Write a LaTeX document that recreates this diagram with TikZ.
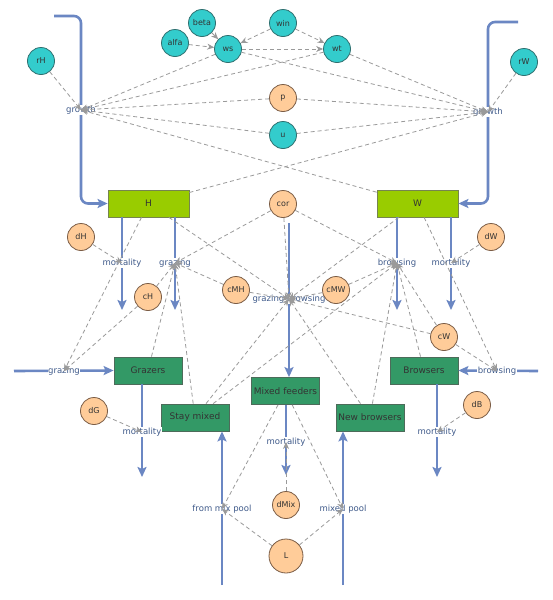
\documentclass[tikz,border=0pt]{standalone}
\usepackage{fontspec}
\setmainfont{DejaVu Sans}
\usetikzlibrary{arrows.meta}
\definecolor{tealfill}{HTML}{33CCCC}
\definecolor{tealedge}{HTML}{2F6F6F}
\definecolor{peachfill}{HTML}{FFCC99}
\definecolor{peachedge}{HTML}{7A5C45}
\definecolor{limefill}{HTML}{99CC00}
\definecolor{limeedge}{HTML}{76844F}
\definecolor{greenfill}{HTML}{339966}
\definecolor{greenedge}{HTML}{4D6B5A}
\definecolor{flowblue}{HTML}{6B87C3}
\definecolor{labblue}{HTML}{3F5A8A}
\definecolor{linkgray}{HTML}{9A9A9A}
\begin{document}
\begin{tikzpicture}[x=1pt,y=-1pt,
  varc/.style={circle, line width=0.8pt, minimum size=27pt, inner sep=0pt, font=\fontsize{8}{9}\selectfont, text=black!80},
  tealc/.style={varc, draw=tealedge, fill=tealfill},
  peachc/.style={varc, draw=peachedge, fill=peachfill},
  stockbox/.style={rectangle, line width=0.8pt, minimum width=68pt, minimum height=27pt, inner sep=0pt, font=\fontsize{9}{10}\selectfont, text=black!80},
  limebox/.style={stockbox, draw=limeedge, fill=limefill, minimum width=81pt},
  greenbox/.style={stockbox, draw=greenedge, fill=greenfill},
  flowlab/.style={fill=white, inner sep=0.6pt, text=labblue, font=\fontsize{8.5}{9}\selectfont},
  flowline/.style={draw=flowblue, line width=2.6pt, -{Stealth[length=10pt,width=9pt,inset=2pt]}},
  link/.style={draw=linkgray, line width=0.8pt, dash pattern=on 4pt off 3pt, -{Stealth[length=7pt,width=6pt]}}
]
\useasboundingbox (0,0) rectangle (552,600);
\fill[white] (0,0) rectangle (552,600);

% ---- valve coordinates
\coordinate (gH) at (81,110);
\coordinate (gW) at (488,112);
\coordinate (mH) at (122,263);
\coordinate (gzH) at (175,263);
\coordinate (bW) at (397,263);
\coordinate (mW) at (451,263);
\coordinate (gb) at (289,299);
\coordinate (gl) at (64,371);
\coordinate (br) at (497,371);
\coordinate (mG) at (142,432);
\coordinate (mB) at (437,432);
\coordinate (mM) at (286,442);
\coordinate (fmp) at (222,509);
\coordinate (mp) at (343,509);

% ---- free ends of flows
\coordinate (gHs) at (54,16);
\coordinate (gWs) at (518,22);
\coordinate (mHe) at (122,310);
\coordinate (gzHe) at (175,310);
\coordinate (bWe) at (397,310);
\coordinate (mWe) at (451,310);
\coordinate (gbs) at (289,223);
\coordinate (gls) at (14,371);
\coordinate (brs) at (538,371);
\coordinate (mGe) at (142,477);
\coordinate (mBe) at (437,477);
\coordinate (mMe) at (286,475);
\coordinate (fmps) at (222,585);
\coordinate (mps) at (343,585);

% ---- stocks
\node[limebox] (H) at (148.5,203.5) {H};
\node[limebox] (W) at (417.5,203.5) {W};
\node[greenbox] (G) at (148,370.5) {Grazers};
\node[greenbox] (SM) at (195,417.5) {Stay mixed};
\node[greenbox] (MF) at (285.5,391) {Mixed feeders};
\node[greenbox] (NB) at (370,417.5) {New browsers};
\node[greenbox] (B) at (424,370.5) {Browsers};

% ---- flows
\draw[flowline, rounded corners=7pt] (gHs) -| (gH) |- (H.west);
\draw[flowline, rounded corners=7pt] (gWs) -| (gW) |- (W.east);
\draw[flowline] (H.south -| mH) -- (mHe);
\draw[flowline] (H.south -| gzH) -- (gzHe);
\draw[flowline] (W.south -| bW) -- (bWe);
\draw[flowline] (W.south -| mW) -- (mWe);
\draw[flowline] (gbs) -- (gbs |- MF.north);
\draw[flowline] (gls) -- (G.west);
\draw[flowline] (brs) -- (B.east);
\draw[flowline] (G.south -| mG) -- (mGe);
\draw[flowline] (B.south -| mB) -- (mBe);
\draw[flowline] (MF.south -| mM) -- (mMe);
\draw[flowline] (fmps) -- (SM.south -| fmp);
\draw[flowline] (mps) -- (NB.south -| mp);

% ---- flow labels
\node[flowlab] (gHl) at (gH) {growth};
\node[flowlab] (gWl) at (gW) {growth};
\node[flowlab] (mHl) at (mH) {mortality};
\node[flowlab] (gzHl) at (gzH) {grazing};
\node[flowlab] (bWl) at (bW) {browsing};
\node[flowlab] (mWl) at (mW) {mortality};
\node[flowlab] (gbl) at (gb) {grazing browsing};
\node[flowlab] (gll) at (gl) {grazing};
\node[flowlab] (brl) at (br) {browsing};
\node[flowlab] (mGl) at (mG) {mortality};
\node[flowlab] (mBl) at (mB) {mortality};
\node[flowlab] (mMl) at (mM) {mortality};
\node[flowlab] (fmpl) at (fmp) {from mix pool};
\node[flowlab] (mpl) at (mp) {mixed pool};

% ---- variables
\node[tealc] (rH) at (41,61) {rH};
\node[tealc] (rW) at (524,62) {rW};
\node[tealc] (beta) at (202,23) {beta};
\node[tealc] (alfa) at (175,43) {alfa};
\node[tealc] (ws) at (228,49) {ws};
\node[tealc] (win) at (283,23) {win};
\node[tealc] (wt) at (337,49) {wt};
\node[peachc] (p) at (283,98) {p};
\node[tealc] (u) at (283,135) {u};
\node[peachc] (cor) at (283,204) {cor};
\node[peachc] (dH) at (81,237) {dH};
\node[peachc] (dW) at (491,237) {dW};
\node[peachc] (cH) at (148,297) {cH};
\node[peachc] (cMH) at (236,290) {cMH};
\node[peachc] (cMW) at (336,290) {cMW};
\node[peachc] (cW) at (444,337) {cW};
\node[peachc] (dG) at (94,411) {dG};
\node[peachc] (dB) at (477,405) {dB};
\node[peachc] (dMix) at (286,505) {dMix};
\node[peachc, minimum size=34pt] (L) at (286,556) {L};

% ---- links
\draw[link] (rH) -- (gH);
\draw[link] (rW) -- (gW);
\draw[link] (alfa) -- (ws);
\draw[link] (beta) -- (ws);
\draw[link] (win) -- (ws);
\draw[link] (win) -- (wt);
\draw[link] (ws) -- (wt);
\draw[link] (ws) -- (gH);
\draw[link] (ws) -- (gW);
\draw[link] (wt) -- (gH);
\draw[link] (wt) -- (gW);
\draw[link] (p) -- (gH);
\draw[link] (p) -- (gW);
\draw[link] (u) -- (gH);
\draw[link] (u) -- (gW);
\draw[link] (H) -- (gW);
\draw[link] (W) -- (gH);
\draw[link] (dH) -- (mH);
\draw[link] (dW) -- (mW);
\draw[link] (H) -- (gl);
\draw[link] (cH) -- (gl);
\draw[link] (cH) -- (gzH);
\draw[link] (cor) -- (gzH);
\draw[link] (cor) -- (gb);
\draw[link] (cor) -- (bW);
\draw[link] (cMH) -- (gzH);
\draw[link] (cMH) -- (gb);
\draw[link] (cMW) -- (gb);
\draw[link] (cMW) -- (bW);
\draw[link] (H) -- (gb);
\draw[link] (W) -- (gb);
\draw[link] (W) -- (br);
\draw[link] (cW) -- (br);
\draw[link] (cW) -- (bW);
\draw[link] (cW) -- (gb);
\draw[link] (G) -- (gzH);
\draw[link] (SM) -- (gzH);
\draw[link] (SM) -- (gb);
\draw[link] (SM) -- (bW);
\draw[link] (NB) -- (gb);
\draw[link] (NB) -- (bW);
\draw[link] (B) -- (bW);
\draw[link] (dG) -- (mG);
\draw[link] (dB) -- (mB);
\draw[link] (dMix) -- (mM);
\draw[link] (MF) -- (fmp);
\draw[link] (MF) -- (mp);
\draw[link] (L) -- (fmp);
\draw[link] (L) -- (mp);
\end{tikzpicture}
\end{document}
